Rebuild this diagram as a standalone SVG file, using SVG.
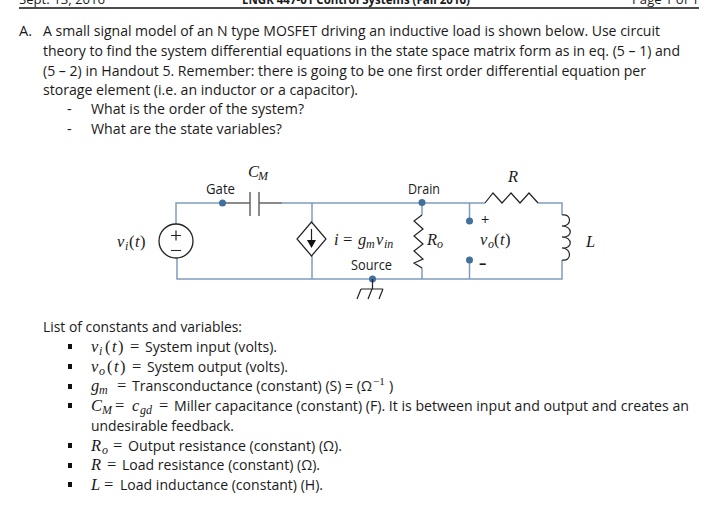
<svg xmlns="http://www.w3.org/2000/svg" width="724" height="508" viewBox="0 0 724 508">
<style>
text{font-family:"Open Sans","Liberation Sans",sans-serif;fill:#1a1a1a;font-size:14.5px}
.m{font-family:"Liberation Serif",serif;font-style:italic;font-size:16.5px}
.r{font-family:"Liberation Serif",serif;font-style:normal;font-size:16.5px}
.s{font-family:"Liberation Serif",serif;font-style:italic;font-size:12px}
.h{font-size:13px}
.w{fill:none;stroke:#7f9cc0;stroke-width:1.5}
.g{fill:none;stroke:#666;stroke-width:1.5}
.k{fill:none;stroke:#222;stroke-width:1.2}
.d{fill:#41709c}
.b{fill:#111}
</style>
<rect width="724" height="508" fill="#fff"/>
<g id="header">
<text class="h" x="19" y="4" textLength="86" lengthAdjust="spacingAndGlyphs">Sept. 13, 2016</text>
<text class="h" x="242" y="4" textLength="228" lengthAdjust="spacingAndGlyphs" font-weight="700">ENGR 447-01 Control Systems (Fall 2016)</text>
<text class="h" x="632" y="4" textLength="67" lengthAdjust="spacingAndGlyphs">Page 1 of 1</text>
<line x1="19" y1="8" x2="699" y2="8" stroke="#111" stroke-width="1.3"/>
</g>
<g id="problem">
<text x="19" y="36">A.</text>
<text x="43" y="36" textLength="617" lengthAdjust="spacingAndGlyphs">A small signal model of an N type MOSFET driving an inductive load is shown below. Use circuit</text>
<text x="43" y="56" textLength="637" lengthAdjust="spacingAndGlyphs">theory to find the system differential equations in the state space matrix form as in eq. (5 – 1) and</text>
<text x="43" y="76" textLength="603" lengthAdjust="spacingAndGlyphs">(5 – 2) in Handout 5. Remember: there is going to be one first order differential equation per</text>
<text x="43" y="95" textLength="315" lengthAdjust="spacingAndGlyphs">storage element (i.e. an inductor or a capacitor).</text>
<text x="67" y="114">-</text><text x="91" y="114" textLength="213" lengthAdjust="spacingAndGlyphs">What is the order of the system?</text>
<text x="67" y="134">-</text><text x="91" y="134" textLength="191" lengthAdjust="spacingAndGlyphs">What are the state variables?</text>
</g>
<g id="connectors">
<path class="w" d="M176 224V203H222M282 203H485M538 203H562V215M562 260V279H177V258M312 203V222M312 256V279M422 203V215M422 268V279M469.500 203V221M469.500 260V279"/>
<path class="g" d="M222 203H250M259 203H282"/>
</g>
<g id="vs"><circle cx="176" cy="241" r="17" fill="#fff" stroke="#222" stroke-width="1.3"/><path class="k" d="M171 235.500H181M176 230.500V240.500M171 250.500H181"/><text class="m" x="117" y="247">v<tspan class="s" x="125" y="250">i</tspan><tspan class="r" x="129" y="247">(</tspan><tspan x="135">t</tspan><tspan class="r" x="140">)</tspan></text></g>
<g id="gate"><circle class="d" cx="222.500" cy="203" r="3.500"/><text x="206" y="194" textLength="29" lengthAdjust="spacingAndGlyphs">Gate</text></g>
<g id="cm"><path class="g" d="M250 192V216M259 192V216"/><text class="m" x="248" y="177">C<tspan class="s" x="258" y="180">M</tspan></text></g>
<g id="cs"><path d="M311.500 222L326 239L311.500 256L297 239Z" fill="#fff" stroke="#222" stroke-width="1.2"/><path class="k" d="M311.500 229V240"/><path class="b" d="M307 240H316L311.500 248Z"/><text class="m" x="334" y="245">i<tspan class="r" x="343">=</tspan><tspan x="358">g</tspan><tspan class="s" x="366" y="248">m</tspan><tspan x="376" y="245">v</tspan><tspan class="s" x="384" y="248">in</tspan></text></g>
<g id="source"><circle class="d" cx="372.500" cy="279" r="3.500"/><text x="351" y="270" textLength="41" lengthAdjust="spacingAndGlyphs">Source</text><path class="k" d="M372.500 279V289M361 289H383M361 289L357 299M372 289L368 299M383 289L379 299"/></g>
<g id="drain"><circle class="d" cx="422" cy="202.500" r="3.500"/><text x="408" y="194" textLength="32" lengthAdjust="spacingAndGlyphs">Drain</text></g>
<g id="ro"><path class="k" d="M422 215L414 221L423 229L414 236L423 244L414 251L423 259L414 263L422 268"/><text class="m" x="427" y="245">R<tspan class="s" x="437" y="248">o</tspan></text></g>
<g id="output"><circle class="d" cx="469.500" cy="221" r="3.500"/><circle class="d" cx="469.500" cy="260" r="3.500"/><text x="481" y="225">+</text><text x="479" y="268" font-weight="700">–</text><text class="m" x="480" y="245">v<tspan class="s" x="488" y="248">o</tspan><tspan class="r" x="494" y="245">(</tspan><tspan x="500">t</tspan><tspan class="r" x="505">)</tspan></text></g>
<g id="r"><path class="k" d="M485 203L493 193L502 203L511 193L520 203L529 193L538 203"/><text class="m" x="508" y="182">R</text></g>
<g id="l"><path class="k" d="M562 215C572 213 572 227 562 226C573 226 573 238 562 237C573 237 573 249 562 248C572 248 572 262 562 260"/><text class="m" x="586" y="247">L</text></g>
<g id="list">
<text x="43" y="332" textLength="199" lengthAdjust="spacingAndGlyphs">List of constants and variables:</text>
<g class="b"><rect x="68" y="344" width="4" height="5"/><rect x="68" y="364" width="4" height="5"/><rect x="68" y="384" width="4" height="5"/><rect x="68" y="403" width="4" height="5"/><rect x="68" y="443" width="4" height="5"/><rect x="68" y="463" width="4" height="5"/><rect x="68" y="482" width="4" height="5"/></g>
<text class="m" x="91" y="352">v<tspan class="s" x="99" y="355">i</tspan><tspan class="r" x="105" y="352">(</tspan><tspan x="112">t</tspan><tspan class="r" x="118">)</tspan><tspan class="r" x="130">=</tspan></text>
<text x="145" y="352" textLength="132" lengthAdjust="spacingAndGlyphs">System input (volts).</text>
<text class="m" x="91" y="372">v<tspan class="s" x="99" y="375">o</tspan><tspan class="r" x="107" y="372">(</tspan><tspan x="114">t</tspan><tspan class="r" x="120">)</tspan><tspan class="r" x="132">=</tspan></text>
<text x="147" y="372" textLength="141" lengthAdjust="spacingAndGlyphs">System output (volts).</text>
<text class="m" x="91" y="391">g<tspan class="s" x="99" y="394">m</tspan><tspan class="r" x="117" y="391">=</tspan></text>
<text x="132" y="391" textLength="240" lengthAdjust="spacingAndGlyphs">Transconductance (constant) (S) = (Ω</text><text class="r" x="373" y="385" style="font-size:11px">−1</text><text x="389" y="391">)</text>
<text class="m" x="91" y="411">C<tspan class="s" x="102" y="414">M</tspan><tspan class="r" x="115" y="411">=</tspan><tspan x="132">c</tspan><tspan class="s" x="140" y="414">gd</tspan><tspan class="r" x="159" y="411">=</tspan></text>
<text x="174" y="411" textLength="515" lengthAdjust="spacingAndGlyphs">Miller capacitance (constant) (F). It is between input and output and creates an</text>
<text x="91" y="431" textLength="143" lengthAdjust="spacingAndGlyphs">undesirable feedback.</text>
<text class="m" x="91" y="451">R<tspan class="s" x="102" y="454">o</tspan><tspan class="r" x="113" y="451">=</tspan></text>
<text x="128" y="451" textLength="214" lengthAdjust="spacingAndGlyphs">Output resistance (constant) (Ω).</text>
<text class="m" x="91" y="470">R<tspan class="r" x="107">=</tspan></text>
<text x="122" y="470" textLength="198" lengthAdjust="spacingAndGlyphs">Load resistance (constant) (Ω).</text>
<text class="m" x="91" y="490">L<tspan class="r" x="104">=</tspan></text>
<text x="120" y="490" textLength="203" lengthAdjust="spacingAndGlyphs">Load inductance (constant) (H).</text>
</g>
</svg>
